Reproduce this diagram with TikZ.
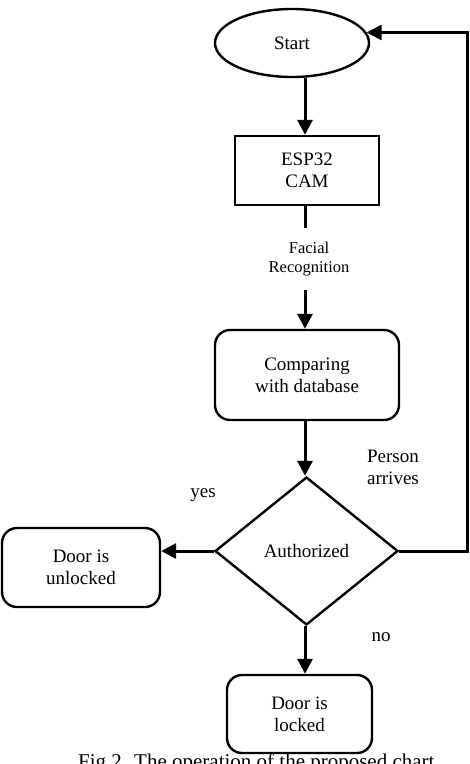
\documentclass[tikz,border=0pt]{standalone}
\usepackage{fontspec}
\setmainfont{Liberation Serif}
\usetikzlibrary{shapes.geometric,arrows.meta}
\begin{document}
\begin{tikzpicture}[x=1pt,y=-1pt,
  txt/.style={font=\fontsize{19}{22}\selectfont, align=center, inner sep=0pt},
  boxsq/.style={txt, draw, line width=2.4pt, rectangle},
  boxrd/.style={txt, draw, line width=2.4pt, rectangle, rounded corners=15pt},
  arr/.style={line width=3pt, -{Triangle[length=15pt,width=15pt]}},
  ln/.style={line width=3pt}]
\useasboundingbox (0,0) rectangle (470,764);
\fill[white] (0,0) rectangle (470,764);
\coordinate (ax) at (305,0);
\coordinate (rt) at (467,0);
\node[txt, draw, line width=2.4pt, ellipse, minimum width=154pt, minimum height=68pt] (start) at (292,43) {Start};
\node[boxsq, minimum width=144pt, minimum height=69pt] (esp) at (307,170.5) {ESP32\\CAM};
\node[txt, font=\fontsize{16.5}{19}\selectfont, minimum height=62pt] (fr) at (309,259) {Facial\\Recognition};
\node[boxrd, minimum width=184pt, minimum height=90pt] (comp) at (307,375) {Comparing\\with database};
\node[txt, draw, line width=2.4pt, diamond, minimum width=183pt, minimum height=148pt] (auth) at (306.5,551) {Authorized};
\node[boxrd, minimum width=158pt, minimum height=79pt] (unl) at (81,567.5) {Door is\\unlocked};
\node[boxrd, minimum width=145pt, minimum height=78pt] (lck) at (299.5,714) {Door is\\locked};
\node[txt] (pa) at (393,467) {Person\\arrives};
\node[txt] (yes) at (203,495) {yes};
\node[txt] (no) at (381,637) {no};
\node[txt, font=\fontsize{21}{24}\selectfont, anchor=base west] (cap) at (78,768) {Fig 2. The operation of the proposed chart};
\draw[arr] (start.south -| ax) -- (esp.north -| ax);
\draw[ln] (esp.south -| ax) -- (fr.north -| ax);
\draw[arr] (fr.south -| ax) -- (comp.north -| ax);
\draw[arr] (comp.south -| ax) -- (auth.north -| ax);
\draw[arr] (auth.west) -- (auth.west -| unl.east);
\draw[arr] (auth.south -| ax) -- (lck.north -| ax);
\draw[arr] (auth.east) -- (auth.east -| rt) |- (start.8.6);
\end{tikzpicture}
\end{document}
